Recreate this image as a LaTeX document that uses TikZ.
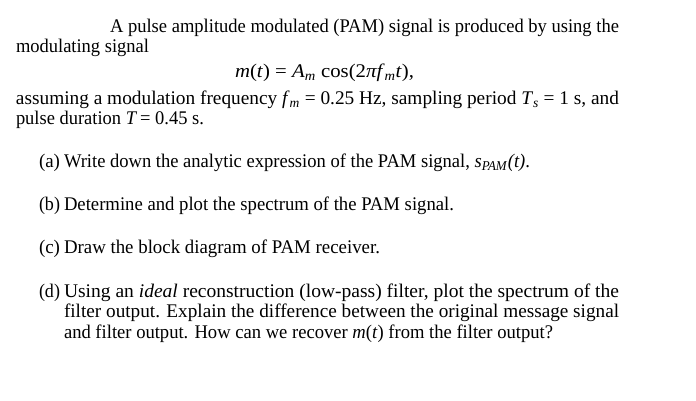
\documentclass[tikz,border=0pt]{standalone}
\usepackage{fontspec}
\setmainfont{Liberation Serif}
\usepackage{graphicx}
\tikzset{txt/.style={anchor=base west, inner sep=0pt, outer sep=0pt, text=black, font=\fontsize{19.3}{22}\selectfont}}
\newcommand{\tline}[5]{\node[txt] (#1) at (#2pt,-#3pt) {\resizebox{#4pt}{\height}{#5}};}
\newcommand{\subit}[1]{\textsubscript{\textit{#1}}}
\begin{document}
\begin{tikzpicture}
\useasboundingbox (0,0) rectangle (696pt,-400pt);
\fill[white] (0,0) rectangle (696pt,-400pt);
\tline{l1}{110}{32}{509}{A pulse amplitude modulated (PAM) signal is produced by using the}
\tline{l2}{16}{52.5}{133}{modulating signal}
\tline{eq}{235}{77}{179}{\textit{m}(\textit{t}) = \textit{A}\subit{m} cos(2\textit{πf}\subit{m}\textit{t}),}
\tline{l4}{16}{104}{603}{assuming a modulation frequency \textit{f}\subit{m} = 0.25 Hz, sampling period \textit{T}\subit{s} = 1 s, and}
\tline{l5}{16}{124}{188}{pulse duration \textit{T}\,= 0.45 s.}
\tline{la}{39}{167}{21}{(a)}
\tline{ta}{64}{167}{466}{Write down the analytic expression of the PAM signal, \textit{s}\subit{PAM}\textit{(t)}.}
\tline{lb}{39}{210}{21}{(b)}
\tline{tb}{64}{210}{390}{Determine and plot the spectrum of the PAM signal.}
\tline{lc}{39}{253}{21}{(c)}
\tline{tc}{64}{253}{316}{Draw the block diagram of PAM receiver.}
\tline{ld}{39}{297}{21}{(d)}
\tline{td1}{64}{297}{555}{Using an \textit{ideal} reconstruction (low-pass) filter, plot the spectrum of the}
\tline{td2}{64}{317}{555}{filter output. Explain the difference between the original message signal}
\tline{td3}{64}{338}{489}{and filter output. How can we recover \textit{m}(\textit{t}) from the filter output?}
\end{tikzpicture}
\end{document}
